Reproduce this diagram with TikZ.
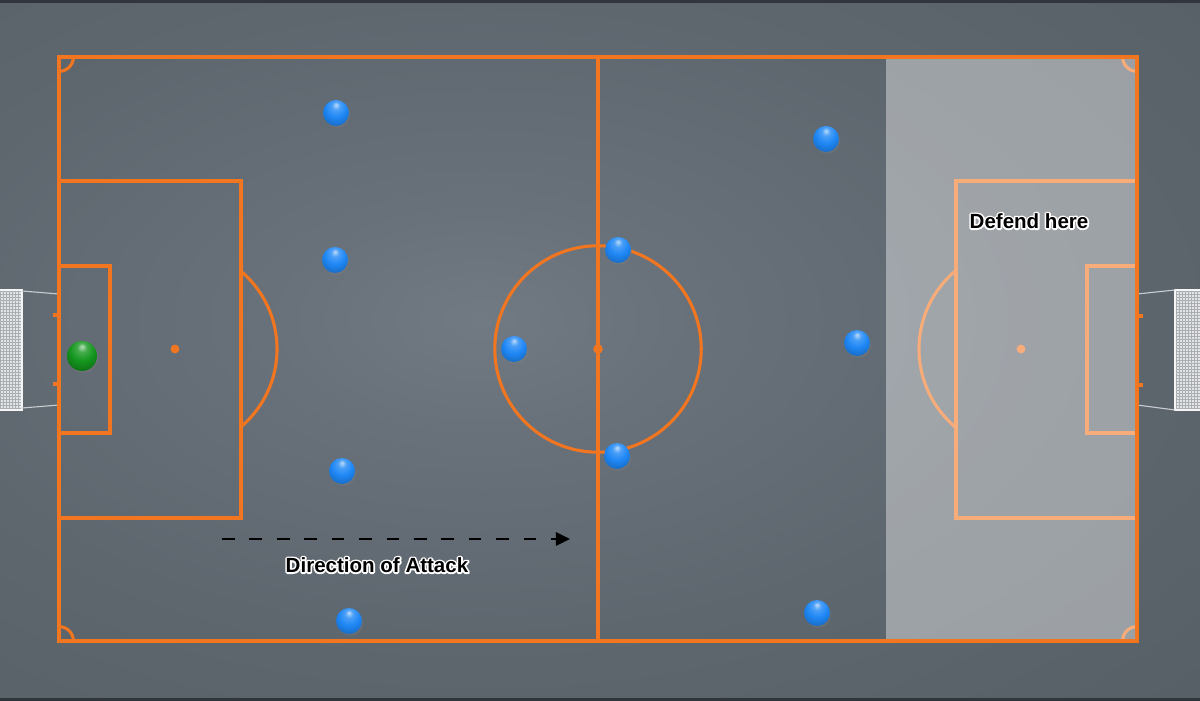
\documentclass[tikz,border=0pt]{standalone}
\usepackage{fontspec}
\usetikzlibrary{arrows.meta,shadows}
\newfontfamily\lblfont{Liberation Sans Bold}
\definecolor{pline}{RGB}{242,117,32}
\definecolor{bgA}{RGB}{113,122,131}
\definecolor{bgB}{RGB}{104,113,122}
\definecolor{bgC}{RGB}{94,102,110}
\definecolor{bgD}{RGB}{84,92,100}
\definecolor{bgE}{RGB}{74,82,90}
\definecolor{bgF}{RGB}{72,80,88}
\definecolor{edgeband}{RGB}{48,54,60}
\definecolor{netfill}{RGB}{226,228,230}
\definecolor{netline}{RGB}{170,174,178}
\definecolor{postline}{RGB}{200,204,208}
\definecolor{bluep}{RGB}{30,135,245}
\definecolor{greenp}{RGB}{20,150,30}
\pgfdeclareradialshading{pitchbg}{\pgfpoint{0bp}{0bp}}{color(0bp)=(bgA); color(6bp)=(bgB); color(16bp)=(bgC); color(32bp)=(bgD); color(42bp)=(bgE); color(50bp)=(bgF)}
\pgfdeclareradialshading{bluesphere}{\pgfpoint{0bp}{16bp}}{color(0bp)=(bluep!30!white); color(8bp)=(bluep!80!white); color(20bp)=(bluep); color(34bp)=(bluep!80!black); color(44bp)=(bluep!50!black); color(70bp)=(bluep!40!black)}
\pgfdeclareradialshading{greensphere}{\pgfpoint{0bp}{16bp}}{color(0bp)=(greenp!30!white); color(8bp)=(greenp!80!white); color(20bp)=(greenp); color(34bp)=(greenp!75!black); color(44bp)=(greenp!45!black); color(70bp)=(greenp!35!black)}
% white outlined copy underneath, black text on top
\newcommand\hlo[1]{\makebox[0pt][l]{\color{white}\special{pdf:code 2 Tr 1 1 1 RG 1 1 1 rg 2.4 w 1 j}#1\special{pdf:code 0 Tr}}{\color{black}#1}}
\tikzset{
  mark line/.style={draw=pline,line width=2.2pt},
  spot/.style={fill=pline},
  netbox/.style={fill=netfill},
  netgridline/.style={draw=netline,line width=0.25pt},
  netedge/.style={draw=white!92!gray,line width=1.4pt},
  post/.style={draw=postline,line width=0.8pt},
  player/.style={circle,inner sep=0pt,minimum size=0.65cm,shading=bluesphere,
     drop shadow={opacity=0.35,shadow xshift=0.8pt,shadow yshift=-1.2pt}},
  keeper/.style={player,minimum size=0.75cm,shading=greensphere},
  lbl/.style={font=\lblfont\fontsize{14.6}{18}\selectfont,inner sep=0pt},
  attackarrow/.style={line width=1.5pt,black,dash pattern=on 9pt off 10.5pt,
     -{Triangle[length=10pt,width=9.5pt]}},
  overlay zone/.style={fill=white,fill opacity=0.4}
}
\begin{document}
\begin{tikzpicture}[x=0.025cm,y=-0.025cm]
\useasboundingbox (0,0) rectangle (1200,701);
% background
\begin{scope}
\clip (0,0) rectangle (1200,701);
\shade[shading=pitchbg] (-420,-180) rectangle (1380,820);
\fill[edgeband] (0,0) rectangle (1200,3);
\fill[edgeband] (0,698) rectangle (1200,701);
\end{scope}
% nets
\fill[netbox] (0,290) rectangle (22,410);
\begin{scope}
\clip (0,290) rectangle (22,410);
\draw[netgridline,step=0.075cm] (0,290) grid (22,410);
\end{scope}
\draw[netedge] (0,290) -- (22,290) -- (22,410) -- (0,410);
\fill[netbox] (1175,290) rectangle (1200,410);
\begin{scope}
\clip (1175,290) rectangle (1200,410);
\draw[netgridline,step=0.075cm] (1175,290) grid (1200,410);
\end{scope}
\draw[netedge] (1200,290) -- (1175,290) -- (1175,410) -- (1200,410);
\coordinate (lgt) at (22,291);
\coordinate (lgb) at (22,408);
\coordinate (lpt) at (59,294);
\coordinate (lpb) at (59,405);
\coordinate (rgt) at (1175,290);
\coordinate (rgb) at (1175,410);
\coordinate (rpt) at (1137,294);
\coordinate (rpb) at (1137,405);
\draw[post] (lgt) -- (lpt);
\draw[post] (lgb) -- (lpb);
\draw[post] (rgt) -- (rpt);
\draw[post] (rgb) -- (rpb);
% goal post ticks
\draw[mark line] (53,315) -- (59,315);
\draw[mark line] (53,384) -- (59,384);
\draw[mark line] (1137,316) -- (1143,316);
\draw[mark line] (1137,385) -- (1143,385);
% markings
\draw[mark line] (59,181) -- (241,181) -- (241,518) -- (59,518);
\draw[mark line] (59,266) -- (110,266) -- (110,433) -- (59,433);
\draw[mark line] (1137,181) -- (956,181) -- (956,518) -- (1137,518);
\draw[mark line] (1137,266) -- (1087,266) -- (1087,433) -- (1137,433);
\begin{scope}
\clip (241,0) rectangle (400,701);
\draw[mark line] (175,349) circle[radius=2.55cm];
\end{scope}
\begin{scope}
\clip (800,0) rectangle (956,701);
\draw[mark line] (1021,349) circle[radius=2.55cm];
\end{scope}
\draw[mark line] (598,349) circle[radius=2.58cm];
\fill[spot] (175,349) circle[radius=0.11cm];
\fill[spot] (1021,349) circle[radius=0.11cm];
\fill[spot] (598,349) circle[radius=0.12cm];
\begin{scope}
\clip (59,57) rectangle (1137,641);
\draw[mark line] (59,57) circle[radius=0.36cm];
\draw[mark line] (1137,57) circle[radius=0.36cm];
\draw[mark line] (59,641) circle[radius=0.36cm];
\draw[mark line] (1137,641) circle[radius=0.36cm];
\end{scope}
% defended zone overlay
\fill[overlay zone] (886,58) rectangle (1136,640);
% outer lines
\draw[mark line] (59,57) rectangle (1137,641);
\draw[mark line] (598,57) -- (598,641);
% players
\node[keeper] (gk) at (82,356) {};
\node[player] (p1) at (336,113) {};
\node[player] (p2) at (335,260) {};
\node[player] (p3) at (342,471) {};
\node[player] (p4) at (349,621) {};
\node[player] (p5) at (514,349) {};
\node[player] (p6) at (618,250) {};
\node[player] (p7) at (617,456) {};
\node[player] (p8) at (826,139) {};
\node[player] (p9) at (857,343) {};
\node[player] (p10) at (817,613) {};
% arrow and labels
\coordinate (as) at (222,539);
\coordinate (ae) at (570,539);
\draw[attackarrow] (as) -- (ae);
\node[lbl] (attack) at (377,565) {\hlo{Direction of Attack}};
\node[lbl] (defend) at (1029,221) {\hlo{Defend here}};
\end{tikzpicture}
\end{document}
